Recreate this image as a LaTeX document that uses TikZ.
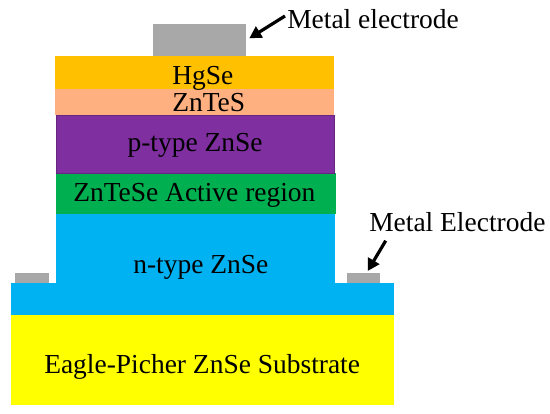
\documentclass[tikz,border=0pt]{standalone}
\usepackage{fontspec}
\setmainfont{Liberation Serif}
\usetikzlibrary{arrows.meta}
\definecolor{cHgSe}{HTML}{FFC000}
\definecolor{cZnTeS}{HTML}{FFB080}
\definecolor{cPtype}{HTML}{7F2FA0}
\definecolor{cActive}{HTML}{00B050}
\definecolor{cNtype}{HTML}{00B2F2}
\definecolor{cSub}{HTML}{FFFF00}
\definecolor{cMetal}{HTML}{A8A8A8}
\begin{document}
\begin{tikzpicture}[x=0.75pt,y=-0.75pt,
  lbl/.style={anchor=base west,inner sep=0pt,font=\fontsize{20.6}{24}\selectfont},
  metal/.style={fill=cMetal},
  pointer/.style={line width=2.4pt,-{Triangle[length=9pt,width=9.5pt]}}]
\useasboundingbox (0,0) rectangle (550,414);
% layers
\fill[cSub] (10.7,314.3) rectangle (394,405);
\fill[cNtype] (10.7,282.7) rectangle (394,314.6);
\fill[cNtype] (56,213.5) rectangle (335,283);
\fill[cActive] (56,173.3) rectangle (335.5,213.7);
\fill[cPtype] (56,115.3) rectangle (334.7,173.5);
\draw[cPtype!80!black,line width=0.5pt] (56,115.3) rectangle (334.7,173.3);
\fill[cZnTeS] (55.3,89) rectangle (334,115.3);
\fill[cHgSe] (55.3,56) rectangle (334,89);
% electrodes
\fill[metal] (152.7,24.3) rectangle (246,56);
\fill[metal] (15.3,272.7) rectangle (49.3,282.7);
\fill[metal] (346.7,273.2) rectangle (380.3,283.2);
% labels
\node[lbl] (hgse) at (172,84.5) {HgSe};
\node[lbl] (zntes) at (172,111) {ZnTeS};
\node[lbl] (ptype) at (127.3,151.7) {p-type ZnSe};
\node[lbl] (active) at (73,201.7) {ZnTeSe Active region};
\node[lbl] (ntype) at (133,273) {n-type ZnSe};
\node[lbl] (sub) at (44,373.3) {Eagle-Picher ZnSe Substrate};
\node[lbl] (toplbl) at (287,28.3) {Metal electrode};
\node[lbl] (sidelbl) at (369,231) {Metal Electrode};
% arrows
\coordinate (t1) at (285,16);
\coordinate (h1) at (249.3,38.3);
\coordinate (t2) at (385.7,240.7);
\coordinate (h2) at (367.7,271);
\draw[pointer] (t1) -- (h1);
\draw[pointer] (t2) -- (h2);
\end{tikzpicture}
\end{document}
